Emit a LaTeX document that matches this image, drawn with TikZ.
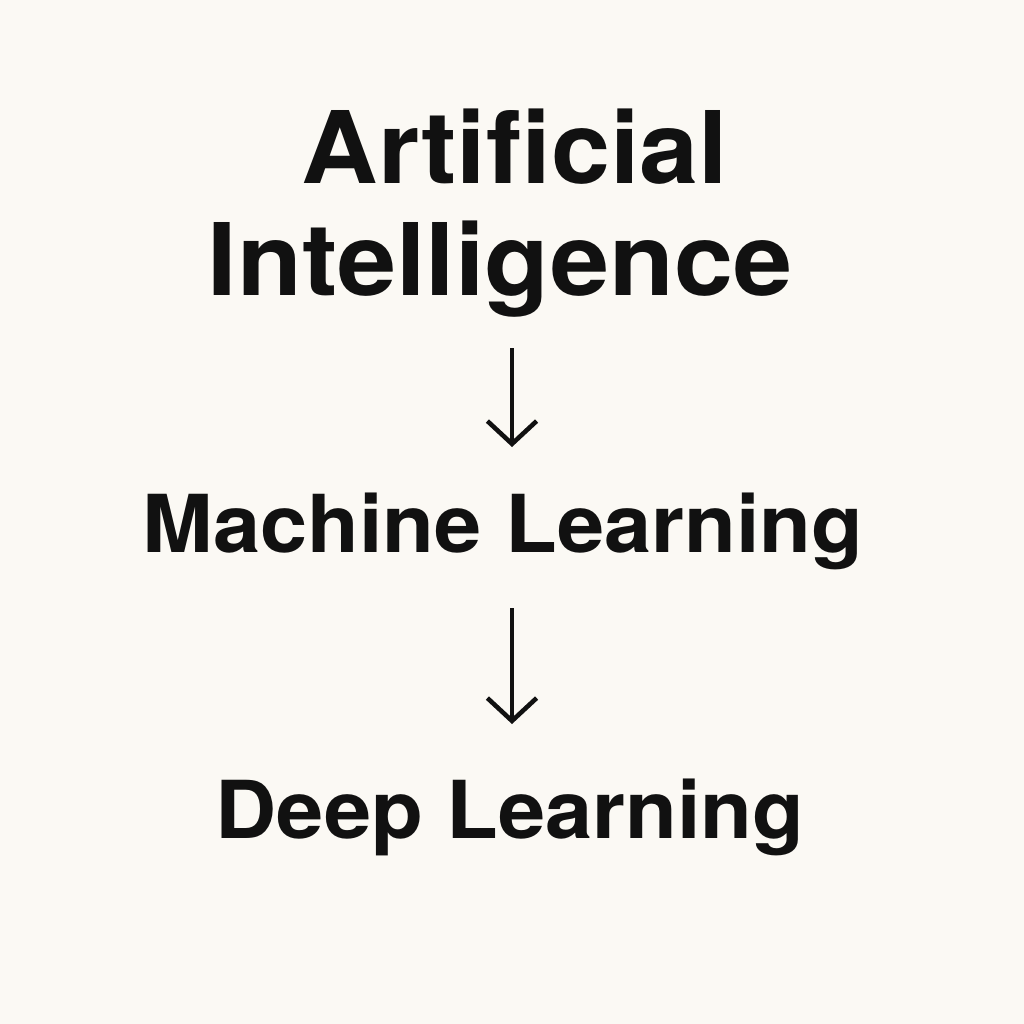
\documentclass[tikz,border=0pt]{standalone}
\usepackage{fontspec}
\setmainfont{TeX Gyre Heros}[FakeStretch=1.06]
\usetikzlibrary{arrows.meta}
\definecolor{bg}{HTML}{FBF9F4}
\definecolor{ink}{HTML}{111111}
\begin{document}
\begin{tikzpicture}[x=0.02cm,y=-0.02cm,
  lbl/.style={anchor=base,text=ink,inner sep=0pt,font=\bfseries\fontsize{45.5}{50}\selectfont},
  big/.style={lbl,font=\bfseries\fontsize{57}{60}\selectfont},
  conn/.style={draw=ink,line width=2.6pt,-{Straight Barb[length=13pt,width=28pt,line width=2.6pt]}}]
\fill[bg] (0,0) rectangle (1024,1024);
\useasboundingbox (0,0) rectangle (1024,1024);
\node[big] (ai1) at (515,183) {Artificial};
\node[big] (ai2) at (500,295) {Intelligence};
\node[lbl] (ml) at (503,552) {Machine Learning};
\node[lbl] (dl) at (510,838) {Deep Learning};
\coordinate (a1) at (512,348); \coordinate (b1) at (512,447);
\coordinate (a2) at (512,608); \coordinate (b2) at (512,724);
\draw[conn] (a1) -- (b1);
\draw[conn] (a2) -- (b2);
\end{tikzpicture}
\end{document}
